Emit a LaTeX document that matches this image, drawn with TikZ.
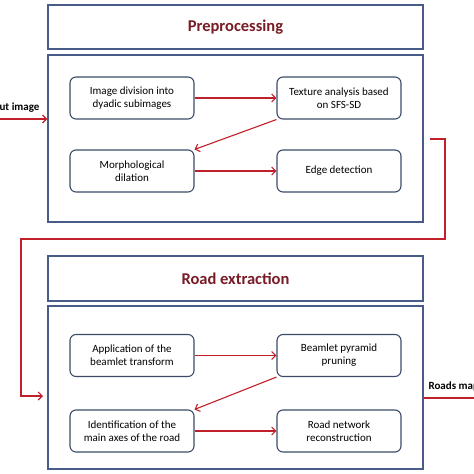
\documentclass[tikz,border=0pt]{standalone}
\usepackage{fontspec}
\setmainfont{Carlito}
\usetikzlibrary{arrows.meta}
\definecolor{framecol}{RGB}{72,92,135}
\definecolor{stepcol}{RGB}{60,75,105}
\definecolor{titlecol}{RGB}{120,28,38}
\definecolor{flowcol}{RGB}{192,32,42}

\begin{document}
\begin{tikzpicture}[x=1pt, y=-1pt,
    frame/.style={draw=framecol, line width=1.4pt, minimum width=375pt, inner sep=0pt},
    titlebox/.style={frame, minimum height=44pt, text=titlecol, font=\fontsize{16.5}{18}\selectfont\bfseries},
    stepbox/.style={draw=stepcol, line width=1.1pt, rounded corners=6pt, minimum width=124pt,
      minimum height=42pt, align=center, inner sep=2pt, font=\fontsize{11}{13}\selectfont},
    flow/.style={draw=flowcol, line width=1.1pt, -{Straight Barb[length=4pt,width=8pt]}}]
  \useasboundingbox (0,0) rectangle (474,474);
  %preprocessing
  \node[titlebox] (pretitle) at (235.5,27) {Preprocessing};
  \node[frame, minimum height=167pt] (pre) at (235.5,138.5) {};
  \node[stepbox] (divide) at (132,98) {Image division into\\dyadic subimages};
  \node[stepbox] (texture) at (339,98) {Texture analysis based\\on SFS-SD};
  \node[stepbox] (dilate) at (132,171) {Morphological\\dilation};
  \node[stepbox] (edge) at (339,171) {Edge detection};
  \draw[flow] (divide) -- (texture);
  \draw[flow] (texture.south west) -- (dilate.north east);
  \draw[flow] (dilate) -- (edge);
  %input
  \node[anchor=east, font=\fontsize{11}{13}\selectfont\bfseries] (inlabel) at (43,108) {Input image};
  \coordinate (inp) at (-2,119);
  \draw[flow] (inp) -- (inp -| pre.west);
  %link between the two stages
  \coordinate (loopstart) at (430,139);
  \coordinate (loopend) at (43,396);
  \draw[flow] (loopstart) -- (445,139) -- (445,239) -- (21,239) -- (21,396) -- (loopend);
  %road extraction
  \node[titlebox, minimum height=45pt] (exttitle) at (235.5,278.5) {Road extraction};
  \node[frame, minimum height=163pt] (ext) at (235.5,387.5) {};
  \node[stepbox] (beamlet) at (132,355.5) {Application of the\\beamlet transform};
  \node[stepbox] (prune) at (339,355.5) {Beamlet pyramid\\pruning};
  \node[stepbox] (axes) at (132,431) {Identification of the\\main axes of the road};
  \node[stepbox] (network) at (339,431) {Road network\\reconstruction};
  \draw[flow] (beamlet) -- (prune);
  \draw[flow] (prune.south west) -- (axes.north east);
  \draw[flow] (axes) -- (network);
  %output
  \node[anchor=west, font=\fontsize{11}{13}\selectfont\bfseries] (outlabel) at (425,387) {Roads map};
  \coordinate (outend) at (480,398);
  \draw[flowcol, line width=1.1pt] (ext.east |- outend) -- (outend);
\end{tikzpicture}
\end{document}
